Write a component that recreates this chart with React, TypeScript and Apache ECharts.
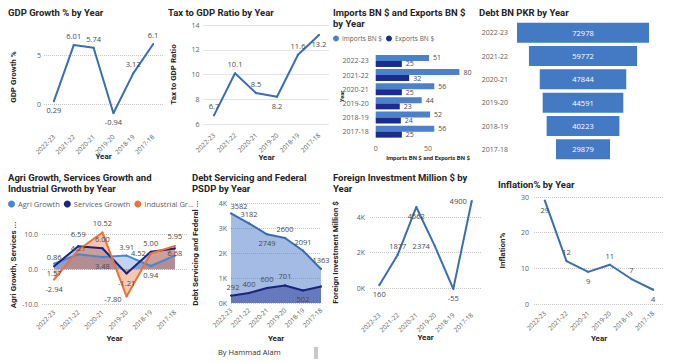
import React, { useEffect, useRef } from 'react';
import * as echarts from 'echarts';

const years = ['2022-23', '2021-22', '2020-21', '2019-20', '2018-19', '2017-18'];
const gdpGrowth = [0.29, 6.01, 5.74, -0.94, 3.12, 6.1];
const taxToGdp = [6.7, 10.1, 8.5, 8.2, 11.6, 13.2];
const importsBn = [51, 80, 56, 44, 52, 56];
const exportsBn = [25, 32, 25, 23, 24, 25];
const debtBnPkr = [72978, 59772, 47844, 44591, 40223, 29879];
const agriGrowth = [1.57, 4.27, 3.48, 3.91, 0.94, 3.88];
const servicesGrowth = [0.86, 6.59, 6.0, -1.21, 5.0, 5.95];
const industrialGrowth = [-2.94, 5.5, 10.52, -7.8, 4.52, 6.68];
const debtServicing = [3582, 3182, 2749, 2600, 2091, 1363];
const federalPsdp = [292, 400, 600, 701, 502, 661];
const foreignInvestment = [160, 1877, 4562, 2374, -55, 4900];
const inflation = [29, 12, 9, 11, 7, 4];

const FONT = '"Open Sans", "Noto Sans", sans-serif';
const TFONT = 'Roboto, "Noto Sans", sans-serif';
const AXIS_COLOR = '#605E5C';
const LABEL_COLOR = '#4A4A4A';
const TITLE_COLOR = '#252423';
const GRID_LINE = { type: 'dotted', color: '#C8C6C4', width: 1 };
const LINE_BLUE = '#3B6DB3';

function xCat(gridIndex: number, margin: number, nameGap: number, extra: any = {}) {
  return {
    type: 'category', gridIndex, data: years, boundaryGap: true,
    axisLine: { show: false, onZero: false }, axisTick: { show: false },
    axisLabel: { rotate: 45, fontSize: 6.5, color: AXIS_COLOR, margin, fontFamily: FONT },
    name: 'Year', nameLocation: 'middle', nameGap, nameMoveOverlap: false,
    nameTextStyle: { fontSize: 8, fontWeight: 'bold', color: TITLE_COLOR, fontFamily: TFONT },
    ...extra,
  };
}

function yVal(gridIndex: number, o: any) {
  return {
    type: 'value', gridIndex, min: o.min, max: o.max, interval: o.interval,
    axisLine: { show: false },
    axisTick: { show: false, customValues: o.ticks },
    axisLabel: { fontSize: 7, color: AXIS_COLOR, margin: o.margin, customValues: o.ticks, formatter: o.formatter, fontFamily: FONT },
    splitLine: { show: true, lineStyle: GRID_LINE },
    name: o.name, nameLocation: 'middle', nameRotate: 90, nameGap: o.nameGap, nameMoveOverlap: false,
    nameTextStyle: { fontSize: 8, fontWeight: 'bold', color: TITLE_COLOR, fontFamily: TFONT },
  };
}

function lineSeries(idx: number, name: string, values: number[], positions: any[], color: string, extra: any = {}) {
  return {
    type: 'line', name, xAxisIndex: idx, yAxisIndex: idx,
    data: values.map((v, i) => {
      const p = positions[i];
      if (p === 'none') return { value: v, label: { show: false } };
      if (typeof p === 'string') return { value: v, label: { position: p } };
      return { value: v, label: { position: p[0], offset: p[1] } };
    }),
    symbol: 'circle', symbolSize: 2, showSymbol: true,
    lineStyle: { color, width: 2 },
    itemStyle: { color, borderWidth: 0 },
    label: { show: true, fontSize: 7.5, color: LABEL_COLOR, distance: 4, fontFamily: FONT, ...(extra.labelExtra || {}) },
    ...(extra.series || {}),
  };
}

function title(text: string, left: number, top: number) {
  return {
    text, left, top, padding: 0,
    textStyle: { fontSize: 9.5, fontWeight: 'bold', color: TITLE_COLOR, fontFamily: TFONT, lineHeight: 11 },
  };
}

export default function App() {
  const ref = useRef<HTMLDivElement>(null);
  useEffect(() => {
    if (!ref.current) return;
    const chart = echarts.init(ref.current, null, { renderer: 'svg' });
    const maxDebt = Math.max(...debtBnPkr);
    const kFmt = (v: number) => v / 1000 + 'K';
    const fix2 = (p: any) => Number(p.value).toFixed(2);
    const option: any = {
      animation: false,
      backgroundColor: '#ffffff',
      textStyle: { fontFamily: FONT },
      title: [
        title('GDP Growth % by Year', 8, 7),
        title('Tax to GDP Ratio by Year', 168, 7),
        title('Imports BN $ and Exports BN $\nby Year', 333, 7),
        title('Debt BN PKR by Year', 479, 7),
        title('Agri Growth, Services Growth and\nIndustrial Grwoth by Year', 8, 172),
        title('Debt Servicing and Federal\nPSDP by Year', 192, 172),
        title('Foreign Investment Million $ by\nYear', 333, 172),
        title('Inflation% by Year', 498, 179),
      ],
      legend: [
        {
          left: 333, top: 35, padding: 0, itemWidth: 6, itemHeight: 6, itemGap: 4, icon: 'circle',
          data: ['Imports BN $', 'Exports BN $'],
          textStyle: { fontSize: 6.5, color: AXIS_COLOR, fontFamily: FONT, padding: [0, 0, 0, -2] },
        },
        {
          left: 8, top: 200, padding: 0, itemWidth: 7, itemHeight: 7, itemGap: 4, icon: 'circle',
          data: ['Agri Growth', 'Services Growth', 'Industrial Growth'],
          formatter: (n: string) => (n === 'Industrial Growth' ? 'Industrial Gr...' : n),
          textStyle: { fontSize: 7.5, color: AXIS_COLOR, fontFamily: FONT, padding: [0, 0, 0, -2] },
        },
      ],
      grid: [
        { left: 44, top: 35.4, width: 119, height: 83.3, outerBoundsMode: 'none' },
        { left: 203.5, top: 25, width: 126, height: 99, outerBoundsMode: 'none' },
        { left: 375.7, top: 53.9, width: 104.6, height: 84.8, outerBoundsMode: 'none' },
        { left: 517, top: 21, width: 132, height: 140, outerBoundsMode: 'none' },
        { left: 42, top: 223.8, width: 145, height: 82.2, outerBoundsMode: 'none' },
        { left: 231, top: 203, width: 90, height: 100, outerBoundsMode: 'none' },
        { left: 370, top: 199.25, width: 111, height: 106.5, outerBoundsMode: 'none' },
        { left: 534, top: 197, width: 130, height: 107, outerBoundsMode: 'none' },
      ],
      xAxis: [
        xCat(0, 17, 34),
        xCat(1, 10, 29),
        {
          type: 'value', gridIndex: 2, min: 0, max: 100, interval: 50,
          axisLine: { show: false }, axisTick: { show: false }, splitLine: { show: false },
          axisLabel: { fontSize: 7, color: AXIS_COLOR, margin: 6, formatter: (v: number) => (v === 100 ? '' : String(v)) },
          name: 'Imports BN $ and Exports BN $', nameLocation: 'middle', nameGap: 16, nameMoveOverlap: false,
          nameTextStyle: { fontSize: 6, fontWeight: 'bold', color: TITLE_COLOR, fontFamily: TFONT },
        },
        { type: 'value', gridIndex: 3, min: 0, max: maxDebt, show: false },
        xCat(4, 5, 28),
        xCat(5, 6, 31, { boundaryGap: false }),
        xCat(6, 8, 28),
        xCat(7, 8, 30),
      ],
      yAxis: [
        yVal(0, { min: -1.5, max: 7, ticks: [0, 5], margin: 3, name: 'GDP Growth %', nameGap: 27 }),
        yVal(1, { min: 6, max: 14, interval: 2, margin: 4, name: 'Tax to GDP Ratio', nameGap: 26 }),
        {
          type: 'category', gridIndex: 2, data: years, inverse: true,
          axisLine: { show: false }, axisTick: { show: false },
          axisLabel: { fontSize: 7, color: AXIS_COLOR, margin: 7 },
          name: 'Year', nameLocation: 'middle', nameRotate: 90, nameGap: 31, nameMoveOverlap: false,
          nameTextStyle: { fontSize: 5.5, fontWeight: 'bold', color: TITLE_COLOR, fontFamily: TFONT },
        },
        {
          type: 'category', gridIndex: 3, data: years, inverse: true,
          axisLine: { show: false }, axisTick: { show: false },
          axisLabel: { fontSize: 7, color: AXIS_COLOR, margin: 9 },
        },
        yVal(4, {
          min: -10.5, max: 13, ticks: [-10, 0, 10], margin: 4, formatter: (v: number) => v.toFixed(1),
          name: 'Agri Growth, Services ...', nameGap: 25,
        }),
        yVal(5, { min: 0, max: 4000, interval: 1000, margin: 4, formatter: kFmt, name: 'Debt Servicing and Federal ...', nameGap: 32 }),
        yVal(6, { min: -1000, max: 5000, ticks: [0, 2000, 4000], margin: 5, formatter: kFmt, name: 'Foreign Investment Million $', nameGap: 31 }),
        yVal(7, { min: 0, max: 30, interval: 10, margin: 5, name: 'Inflation%', nameGap: 28 }),
      ],
      series: [
        lineSeries(0, 'GDP Growth %', gdpGrowth, ['bottom', 'top', 'top', 'bottom', 'top', 'top'], LINE_BLUE),
        lineSeries(1, 'Tax to GDP Ratio', taxToGdp, ['top', 'top', 'top', 'bottom', 'top', 'bottom'], LINE_BLUE),
        {
          type: 'bar', name: 'Imports BN $', xAxisIndex: 2, yAxisIndex: 2, data: importsBn,
          barWidth: 6, barGap: '0%', itemStyle: { color: '#4A80CC' },
          label: { show: true, position: 'right', fontSize: 7, color: LABEL_COLOR, distance: 4 },
        },
        {
          type: 'bar', name: 'Exports BN $', xAxisIndex: 2, yAxisIndex: 2, data: exportsBn,
          barWidth: 6, barGap: '0%', itemStyle: { color: '#1B2B8E' },
          label: { show: true, position: 'right', fontSize: 7, color: LABEL_COLOR, distance: 4 },
        },
        {
          type: 'bar', name: 'offset', xAxisIndex: 3, yAxisIndex: 3, stack: 'funnel', silent: true,
          data: debtBnPkr.map((v) => (maxDebt - v) / 2), barWidth: 20,
          itemStyle: { color: 'rgba(0,0,0,0)' },
        },
        {
          type: 'bar', name: 'Debt BN PKR', xAxisIndex: 3, yAxisIndex: 3, stack: 'funnel',
          data: debtBnPkr, barWidth: 20,
          itemStyle: { color: '#4479C4' },
          label: { show: true, position: 'inside', fontSize: 7.5, color: '#ffffff' },
        },
        lineSeries(4, 'Agri Growth', agriGrowth, ['bottom', ['top', [0, 3]], 'bottom', 'top', 'bottom', 'none'], '#4A86D0', {
          series: { areaStyle: { color: '#4A86D0', opacity: 0.35 } },
          labelExtra: { formatter: fix2 },
        }),
        lineSeries(4, 'Services Growth', servicesGrowth, ['top', ['top', [0, -3]], 'top', 'bottom', 'top', ['top', [0, -3]]], '#1A237E', {
          series: { areaStyle: { color: '#1A237E', opacity: 0.3 } },
          labelExtra: { formatter: fix2 },
        }),
        lineSeries(4, 'Industrial Growth', industrialGrowth, ['bottom', 'none', 'top', ['left', [0, 2]], 'left', ['bottom', [0, -2]]], '#E8743B', {
          series: { areaStyle: { color: '#E8743B', opacity: 0.4 } },
          labelExtra: { formatter: fix2 },
        }),
        lineSeries(5, 'Debt Servicing', debtServicing, [['top', [8, 2]], 'top', 'bottom', 'top', 'top', 'top'], '#3A6BAF', {
          series: { areaStyle: { color: '#4A78C8', opacity: 0.5 } },
        }),
        lineSeries(5, 'Federal PSDP', federalPsdp, [['top', [2, 0]], 'top', 'top', 'top', 'bottom', 'none'], '#1A237E', {
          series: { areaStyle: { color: '#1A2B8C', opacity: 0.45 } },
        }),
        lineSeries(6, 'Foreign Investment', foreignInvestment, ['bottom', 'top', 'bottom', 'left', 'bottom', 'left'], LINE_BLUE),
        lineSeries(7, 'Inflation%', inflation, ['bottom', 'top', 'bottom', 'top', 'top', 'bottom'], LINE_BLUE),
      ],
      graphic: [
        {
          type: 'text', left: 218, top: 348,
          style: { text: 'By Hammad Alam', fontSize: 7.5, fill: '#333333', fontFamily: FONT },
        },
        {
          type: 'rect', shape: { x: 314, y: 347, width: 4, height: 12 },
          style: { fill: '#C8C8C8' },
        },
      ],
    };
    chart.setOption(option);
    return () => chart.dispose();
  }, []);
  return <div ref={ref} style={{ position: 'absolute', left: 0, top: 0, width: 680, height: 363, background: '#fff' }} />;
}
